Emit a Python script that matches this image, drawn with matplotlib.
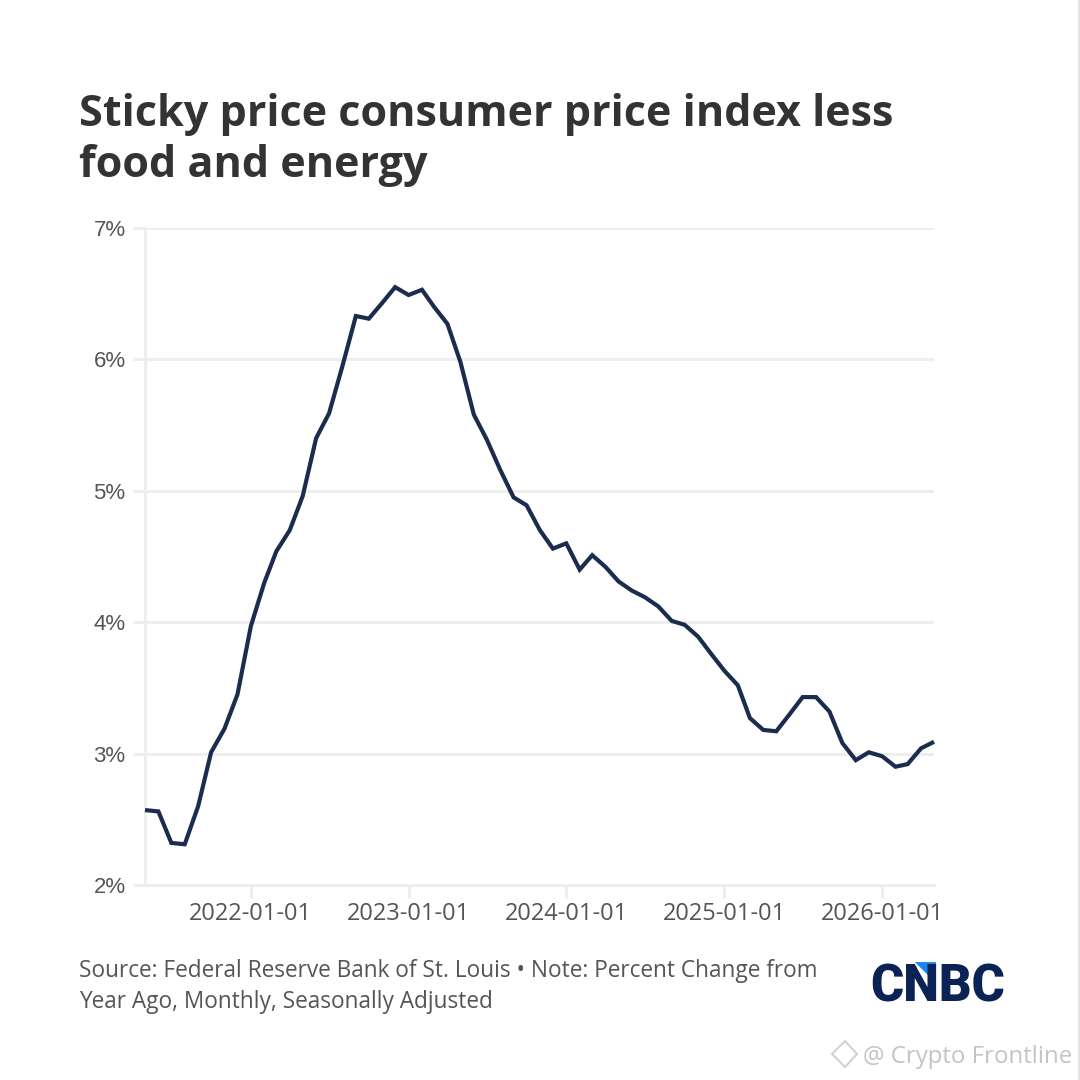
import matplotlib
matplotlib.use("Agg")
import matplotlib.pyplot as plt
import matplotlib.dates as mdates
from matplotlib.patches import Polygon, Rectangle
from matplotlib.ticker import FuncFormatter
import pandas as pd

W = H = 1080
TITLE = "Sticky price consumer price index less\nfood and energy"
SOURCE = "Source: Federal Reserve Bank of St. Louis \u2022 Note: Percent Change from\nYear Ago, Monthly, Seasonally Adjusted"
dates = pd.date_range("2021-05-01", "2026-05-01", freq="MS")
values = [2.57, 2.56, 2.32, 2.31, 2.60, 3.01, 3.19, 3.45, 3.97, 4.30, 4.54, 4.70,
          4.96, 5.40, 5.59, 5.95, 6.33, 6.31, 6.43, 6.55, 6.49, 6.53, 6.40, 6.27,
          5.98, 5.58, 5.39, 5.16, 4.95, 4.89, 4.70, 4.56, 4.60, 4.40, 4.51, 4.42,
          4.31, 4.24, 4.19, 4.12, 4.01, 3.98, 3.89, 3.76, 3.63, 3.52, 3.27, 3.18,
          3.17, 3.30, 3.43, 3.43, 3.32, 3.08, 2.95, 3.01, 2.98, 2.90, 2.92, 3.04, 3.09]
y_ticks = [2, 3, 4, 5, 6, 7]
x_ticks = ["2022-01-01", "2023-01-01", "2024-01-01", "2025-01-01", "2026-01-01"]

GRID = "#eeeeee"
TEXT = "#555555"
NAVY = "#1b2c4f"
plt.rcParams["font.family"] = ["Open Sans", "DejaVu Sans"]

fig = plt.figure(figsize=(W / 100, H / 100), dpi=100, facecolor="white")
ax = fig.add_axes([145 / W, 1 - 885 / H, (934 - 145) / W, (885 - 228) / H])
ax.plot(dates, values, color=NAVY, lw=3.0, solid_joinstyle="miter", solid_capstyle="butt", clip_on=False, zorder=3)
ax.set_xlim(pd.Timestamp("2021-05-01"), pd.Timestamp("2026-05-01"))
ax.set_ylim(2, 7)
ax.set_yticks(y_ticks)
ax.set_xticks(pd.to_datetime(x_ticks))
ax.xaxis.set_major_formatter(mdates.DateFormatter("%Y-%m-%d"))
ax.yaxis.set_major_formatter(FuncFormatter(lambda v, _: f"{v:.0f}%"))
ax.grid(axis="y", color=GRID, lw=2.2, zorder=1)
for side in ("top", "right"):
    ax.spines[side].set_visible(False)
for side in ("left", "bottom"):
    ax.spines[side].set_color(GRID)
    ax.spines[side].set_linewidth(2.2)
ax.tick_params(axis="both", color=GRID, width=2.2, length=9, labelcolor=TEXT, labelsize=17, pad=3)
ax.tick_params(axis="x", pad=3)
ax.tick_params(axis="y", pad=5)
for lab in ax.get_yticklabels():
    lab.set_fontfamily(["Liberation Sans", "DejaVu Sans"])
    lab.set_fontsize(16)

fig.text(79 / W, 1 - 177 / H, TITLE, fontsize=31.1, fontweight="bold", color="#333333",
         ha="left", va="baseline", linespacing=1.25)
fig.text(79 / W, 1 - 1008 / H, SOURCE, fontsize=16.3, color=TEXT, ha="left", va="baseline", linespacing=1.37)

# CNBC logo
fig.text(937.5 / W, 1 - 1001 / H, "CNBC", fontsize=36.5, fontweight="black", color="#0b2354",
         ha="center", va="baseline", family=["Roboto", "DejaVu Sans"])
fig.add_artist(Polygon([(913 / W, 1 - 961 / H), (936 / W, 1 - 961 / H), (936 / W, 1 - 984 / H)],
                       closed=True, transform=fig.transFigure, facecolor="#1a84f0", edgecolor="white", lw=0.8))

# watermark
fig.text(1072 / W, 1 - 1063 / H, "@ Crypto Frontline", fontsize=17.3, color="#c4c4c4",
         ha="right", va="baseline")
fig.add_artist(Polygon([(845 / W, 1 - 1041 / H), (857 / W, 1 - 1054 / H), (845 / W, 1 - 1067 / H), (832 / W, 1 - 1054 / H)],
                       closed=True, transform=fig.transFigure, facecolor="none", edgecolor="#d2d2d2", lw=1.5))
# right page edge
fig.add_artist(Rectangle((1078 / W, 0), 2 / W, 1, transform=fig.transFigure, facecolor="#e4e4e4", edgecolor="none"))

fig.savefig("out.png", dpi=100, facecolor="white")
